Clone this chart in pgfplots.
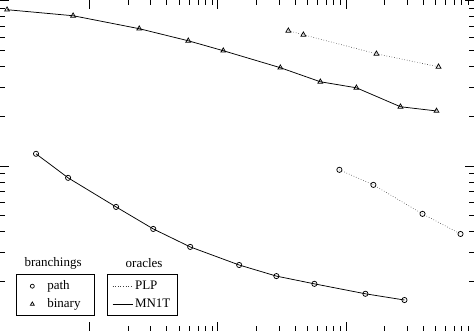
\documentclass[border=0pt]{standalone}
\usepackage{pgfplots}
\pgfplotsset{compat=1.18}
\usepackage{fontspec}
\setmainfont{Liberation Serif}
\begin{document}
\begin{tikzpicture}
\begin{axis}[
  width=474pt, height=331pt, scale only axis,
  xmode=log, ymode=log,
  xmin=2, xmax=10000, ymin=1, ymax=101,
  axis line style={draw=none},
  tick align=inside,
  major tick length=9pt, minor tick length=5.5pt,
  tick style={black, line width=0.6pt},
  xtick={10,100,1000,10000}, ytick={1,10,100},
  xticklabels={}, yticklabels={},
  clip=false,
  name=ax,
  legend style={at={(0.0338,0.0453)}, anchor=south west, draw=black, line width=0.6pt,
    font=\fontsize{13}{14}\selectfont, inner xsep=6pt, inner ysep=2.5pt, row sep=0pt,
    column sep=3pt,
    nodes={text width=39pt, text height=9pt, text depth=3pt, inner ysep=3pt}},
  legend cell align=left,
  legend image code/.code={\path[draw=none, fill=none] (0pt,-3pt) rectangle (20pt,3pt);
    \draw[mark repeat=2, mark phase=2, #1] plot coordinates {(0pt,0pt)(10pt,0pt)(20pt,0pt)};},
]
\addlegendimage{only marks, mark=o, mark size=2pt, line width=0.7pt}
\addlegendentry{path}
\addlegendimage{only marks, mark=triangle, mark size=2.3pt, line width=0.7pt}
\addlegendentry{binary}
% binary, MN1T
\addplot[forget plot, black, line width=0.75pt, mark=triangle, mark size=2.8pt, mark options={fill=white, solid}] coordinates {
(2.27,88.2)(7.44,81.1)(24.4,67.7)(58.9,57.2)(110.5,49.8)(308,39.3)(632,32.3)(1208,29.7)(2667,22.8)(5096,21.5)};
% binary, PLP
\addplot[forget plot, black!75, dotted, line width=0.6pt, mark=triangle, mark size=2.8pt, mark options={fill=white, solid, black, line width=0.75pt}] coordinates {
(355.7,65.8)(466,62.2)(1732,47.7)(5284,39.8)};
% path, MN1T
\addplot[forget plot, black, line width=0.75pt, mark=o, mark size=2.6pt, mark options={fill=white, solid}] coordinates {
(3.82,11.83)(6.80,8.46)(16.1,5.64)(31.4,4.15)(61.0,3.23)(147,2.51)(287,2.15)(568,1.93)(1421,1.68)(2866,1.54)};
% path, PLP
\addplot[forget plot, black!75, dotted, line width=0.6pt, mark=o, mark size=2.6pt, mark options={fill=white, solid, black, line width=0.75pt}] coordinates {
(890,9.46)(1640,7.67)(3964,5.12)(7848,3.87)};
\node[font=\fontsize{13}{14}\selectfont] at (rel axis cs:0.112,0.205) {branchings};
\node[font=\fontsize{13}{14}\selectfont] at (rel axis cs:0.304,0.205) {oracles};
\end{axis}
\begin{axis}[
  width=474pt, height=331pt, scale only axis,
  xmin=0, xmax=1, ymin=0, ymax=1,
  hide axis, at={(ax.south west)}, anchor=south west,
  legend style={at={(0.2257,0.0453)}, anchor=south west, draw=black, line width=0.6pt,
    font=\fontsize{13}{14}\selectfont, inner xsep=5pt, inner ysep=2.5pt, row sep=0pt,
    nodes={text height=9pt, text depth=3pt, inner ysep=3pt}},
  legend cell align=left,
  legend image code/.code={\draw[#1] (0pt,0pt) -- (20pt,0pt);},
]
\addlegendimage{black!75, dotted, line width=0.6pt}
\addlegendentry{PLP}
\addlegendimage{black, line width=0.75pt}
\addlegendentry{MN1T}
\end{axis}
\pgfresetboundingbox
\path[use as bounding box] (ax.south west) rectangle (ax.north east);
\end{tikzpicture}
\end{document}
